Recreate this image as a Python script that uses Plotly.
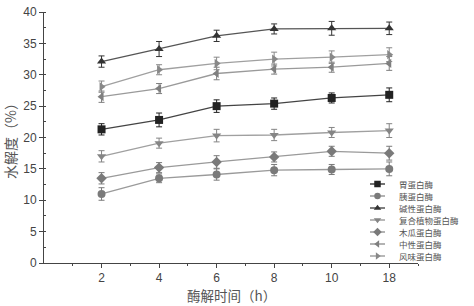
import plotly.graph_objects as go

times = ["2", "4", "6", "8", "10", "18"]
names = ["胃蛋白酶", "胰蛋白酶", "碱性蛋白酶", "复合植物蛋白酶", "木瓜蛋白酶", "中性蛋白酶", "风味蛋白酶"]
pepsin = [21.3, 22.8, 25.0, 25.4, 26.3, 26.8]
trypsin = [11.0, 13.5, 14.1, 14.8, 14.9, 15.0]
alcalase = [32.1, 34.1, 36.2, 37.3, 37.4, 37.4]
plant = [17.0, 19.1, 20.3, 20.4, 20.8, 21.1]
papain = [13.5, 15.2, 16.1, 16.9, 17.8, 17.5]
neutral = [26.5, 27.8, 30.2, 30.9, 31.2, 31.8]
flavour = [28.1, 30.8, 31.8, 32.5, 32.8, 33.2]

err_pepsin = [0.9, 1.1, 1.0, 0.9, 0.8, 1.1]
err_trypsin = [1.0, 0.7, 0.9, 0.9, 0.8, 1.1]
err_alcalase = [0.9, 1.2, 0.9, 0.8, 1.1, 1.0]
err_plant = [0.9, 0.8, 1.0, 0.9, 0.8, 1.1]
err_papain = [0.9, 0.8, 1.0, 0.8, 0.8, 1.1]
err_neutral = [0.9, 0.8, 1.0, 0.8, 0.8, 1.1]
err_flavour = [0.9, 0.8, 1.0, 1.1, 1.0, 1.1]

series = [pepsin, trypsin, alcalase, plant, papain, neutral, flavour]
errs = [err_pepsin, err_trypsin, err_alcalase, err_plant, err_papain, err_neutral, err_flavour]
symbols = ["square", "circle", "triangle-up", "triangle-down", "diamond", "triangle-left", "triangle-right"]
colors = ["#222222", "#7a7a7a", "#333333", "#858585", "#7a7a7a", "#7f7f7f", "#888888"]
line_colors = ["#444444", "#9a9a9a", "#555555", "#a0a0a0", "#9a9a9a", "#9a9a9a", "#a0a0a0"]

W, H = 474, 306
ML, MR, MT, MB = 44, 56, 12, 43
PW = W - ML - MR
PH = H - MT - MB

xpos = list(range(len(times)))

fig = go.Figure()
for n, s, e, sym, c, lc in zip(names, series, errs, symbols, colors, line_colors):
    fig.add_trace(go.Scatter(
        x=xpos, y=s, name=n, mode="lines+markers", showlegend=False,
        line=dict(color=lc, width=1.3),
        marker=dict(symbol=sym, size=8, color=c),
        error_y=dict(type="data", array=e, visible=True, color=c, thickness=1, width=3),
    ))

# compact legend drawn on a separate pixel-scaled axis pair
leg_dom0 = 0.8
leg_x0 = ML + leg_dom0 * PW
row_y0, row_dy = 184, 12
key_x0, key_x1 = 370, 385
text_x = 397
for i, (n, sym, c, lc) in enumerate(zip(names, symbols, colors, line_colors)):
    yy = row_y0 + i * row_dy
    fig.add_trace(go.Scatter(
        x=[key_x0 - leg_x0, key_x1 - leg_x0], y=[yy, yy], mode="lines",
        line=dict(color=lc, width=1.3), xaxis="x2", yaxis="y2",
        showlegend=False, hoverinfo="skip"))
    fig.add_trace(go.Scatter(
        x=[(key_x0 + key_x1) / 2 - leg_x0], y=[yy], mode="markers",
        marker=dict(symbol=sym, size=6.5, color=c), xaxis="x2", yaxis="y2",
        showlegend=False, hoverinfo="skip"))
    fig.add_annotation(
        text=n, xref="paper", yref="y2", x=(text_x - ML) / PW, y=yy,
        xanchor="left", yanchor="middle", showarrow=False,
        font=dict(family="Noto Sans CJK SC", size=8.5, color="#555555"))

# x-axis title placed below the tick labels
fig.add_annotation(
    text="酶解时间（h）", xref="paper", yref="paper", x=0.5, y=-(295.5 - (MT + PH)) / PH,
    xanchor="center", yanchor="middle", showarrow=False,
    font=dict(family="Noto Sans CJK SC", size=13.5, color="#555555"))

fig.update_layout(
    width=W, height=H,
    margin=dict(l=ML, r=MR, t=MT, b=MB, pad=0, autoexpand=False),
    plot_bgcolor="rgba(0,0,0,0)", paper_bgcolor="white",
    font=dict(family="Liberation Sans, Noto Sans CJK SC", size=12, color="#444444"),
    showlegend=False,
    xaxis=dict(
        domain=[0, 1], automargin=False,
        range=[-1, 5.5], tickmode="array", tickvals=xpos, ticktext=times,
        showgrid=False, zeroline=False, showline=True, linecolor="#444444", linewidth=1,
        ticks="outside", ticklen=4, tickcolor="#444444",
        minor=dict(tickvals=[-0.5, 0.5, 1.5, 2.5, 3.5, 4.5, 5.5], ticks="outside", ticklen=2, tickcolor="#444444"),
    ),
    yaxis=dict(
        domain=[0, 1], automargin=False,
        range=[0, 40], tickmode="linear", tick0=0, dtick=5,
        showgrid=False, zeroline=False, showline=True, linecolor="#444444", linewidth=1,
        ticks="outside", ticklen=4, tickcolor="#444444",
        minor=dict(dtick=2.5, ticks="inside", ticklen=2, tickcolor="#444444"),
        title=dict(text="水解度（%）", font=dict(family="Noto Sans CJK SC", size=14, color="#555555"), standoff=6),
    ),
    xaxis2=dict(domain=[leg_dom0, 1.0], range=[0, (1 - leg_dom0) * PW], visible=False,
                anchor="y2", fixedrange=True, automargin=False),
    yaxis2=dict(domain=[0, 1], range=[MT + PH, MT], visible=False, anchor="x2",
                fixedrange=True, automargin=False),
)

fig.write_html("out.html")
